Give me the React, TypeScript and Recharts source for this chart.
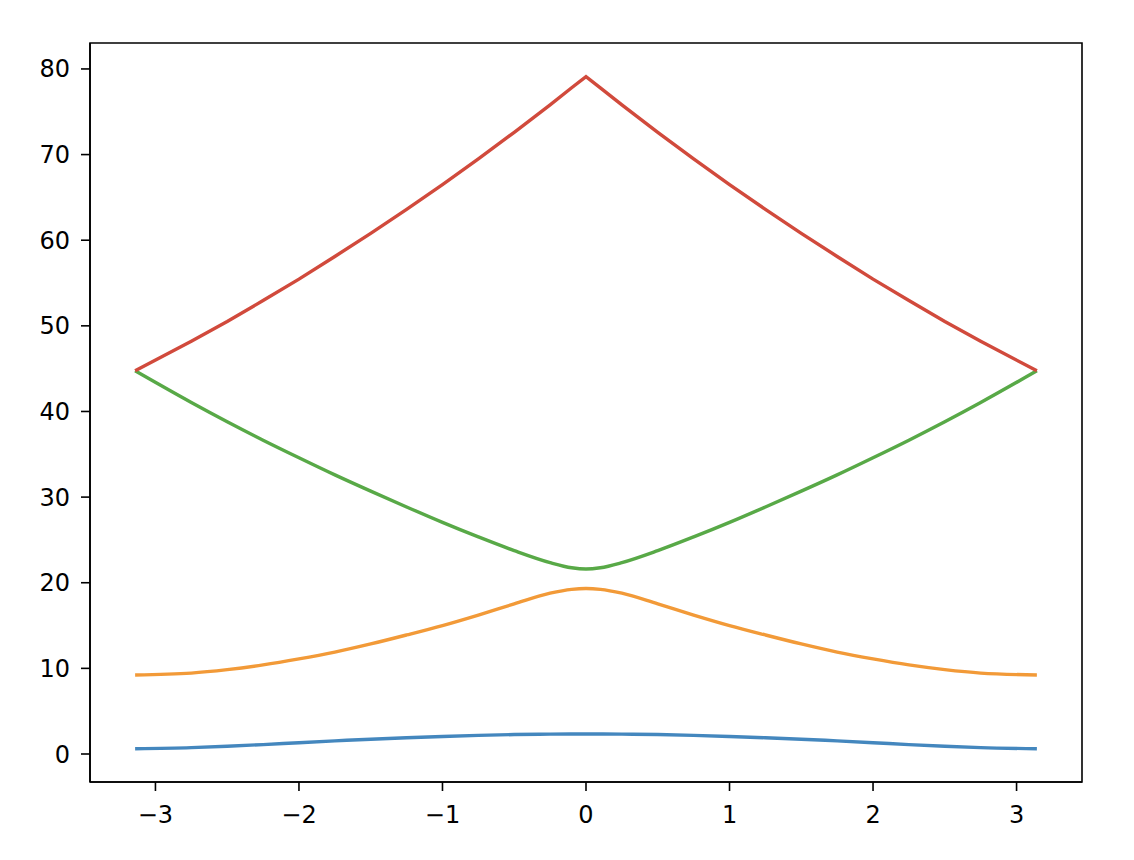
import React from "react";
import { LineChart, Line, XAxis, YAxis, ReferenceArea } from "recharts";

// k values sampled across the zone (-pi .. pi)
const kValues = [
  -3.1416, -2.75, -2.5, -2.25, -2.0, -1.75, -1.5, -1.25, -1.0, -0.75, -0.5, -0.25, -0.1, 0,
  0.1, 0.25, 0.5, 0.75, 1.0, 1.25, 1.5, 1.75, 2.0, 2.25, 2.5, 2.75, 3.1416,
];

// four bands
const band1 = [
  0.62, 0.74, 0.9, 1.1, 1.32, 1.53, 1.73, 1.9, 2.05, 2.18, 2.27, 2.32, 2.335, 2.34,
  2.335, 2.32, 2.27, 2.18, 2.05, 1.9, 1.73, 1.53, 1.32, 1.1, 0.9, 0.74, 0.62,
];
const band2 = [
  9.23, 9.45, 9.85, 10.4, 11.1, 11.9, 12.85, 13.9, 15.0, 16.23, 17.53, 18.78, 19.23, 19.33,
  19.23, 18.78, 17.53, 16.23, 15.0, 13.9, 12.85, 11.9, 11.1, 10.4, 9.85, 9.45, 9.23,
];
const band3 = [
  44.75, 41.05, 38.8, 36.65, 34.6, 32.6, 30.7, 28.85, 27.05, 25.35, 23.75, 22.35, 21.75, 21.6,
  21.75, 22.35, 23.75, 25.35, 27.05, 28.85, 30.7, 32.6, 34.6, 36.65, 38.8, 41.05, 44.75,
];
const band4 = [
  44.75, 48.2, 50.5, 52.95, 55.45, 58.1, 60.8, 63.6, 66.5, 69.5, 72.6, 75.8, 77.8, 79.1,
  77.8, 75.8, 72.6, 69.5, 66.5, 63.6, 60.8, 58.1, 55.45, 52.95, 50.5, 48.2, 44.75,
];

const xTicks = [-3, -2, -1, 0, 1, 2, 3];
const yTicks = [0, 10, 20, 30, 40, 50, 60, 70, 80];

const xDomain: [number, number] = [-3.456, 3.456];
const yDomain: [number, number] = [-3.27, 83.03];

const data = kValues.map((k, i) => ({
  k,
  b1: band1[i],
  b2: band2[i],
  b3: band3[i],
  b4: band4[i],
}));

const fmt = (v: number) => String(v).replace("-", "\u2212");

const tickStyle = { fill: "#000", fontSize: 24, fontFamily: "DejaVu Sans" };
const lineStyle = { strokeWidth: 3.4 };

export default function App() {
  return (
    <div style={{ position: "absolute", left: 0, top: 0, background: "#fff" }}>
      <LineChart
        width={1134}
        height={860}
        data={data}
        margin={{ top: 43, right: 52, bottom: 18, left: 10 }}
      >
        <XAxis
          dataKey="k"
          type="number"
          domain={xDomain}
          allowDataOverflow
          ticks={xTicks}
          tickFormatter={fmt}
          height={60}
          tickSize={9}
          tickMargin={15}
          tick={tickStyle}
          stroke="#000"
          tickLine={{ stroke: "#000", strokeWidth: 1.6 }}
          axisLine={{ stroke: "#000", strokeWidth: 1.6 }}
        />
        <YAxis
          type="number"
          domain={yDomain}
          allowDataOverflow
          ticks={yTicks}
          tickFormatter={fmt}
          width={80}
          tickSize={9}
          tickMargin={11}
          tick={tickStyle}
          stroke="#000"
          tickLine={{ stroke: "#000", strokeWidth: 1.6 }}
          axisLine={{ stroke: "#000", strokeWidth: 1.6 }}
        />
        <ReferenceArea
          x1={xDomain[0]}
          x2={xDomain[1]}
          y1={yDomain[0]}
          y2={yDomain[1]}
          fill="none"
          stroke="#000"
          strokeWidth={1.6}
          fillOpacity={0}
        />
        <Line type="monotone" dataKey="b1" stroke="#4487be" strokeWidth={3.4} style={lineStyle} dot={false} isAnimationActive={false} />
        <Line type="monotone" dataKey="b2" stroke="#f29a38" strokeWidth={3.4} style={lineStyle} dot={false} isAnimationActive={false} />
        <Line type="monotone" dataKey="b3" stroke="#58a947" strokeWidth={3.4} style={lineStyle} dot={false} isAnimationActive={false} />
        <Line type="linear" dataKey="b4" stroke="#d14a3c" strokeWidth={3.4} style={lineStyle} dot={false} isAnimationActive={false} />
      </LineChart>
    </div>
  );
}
